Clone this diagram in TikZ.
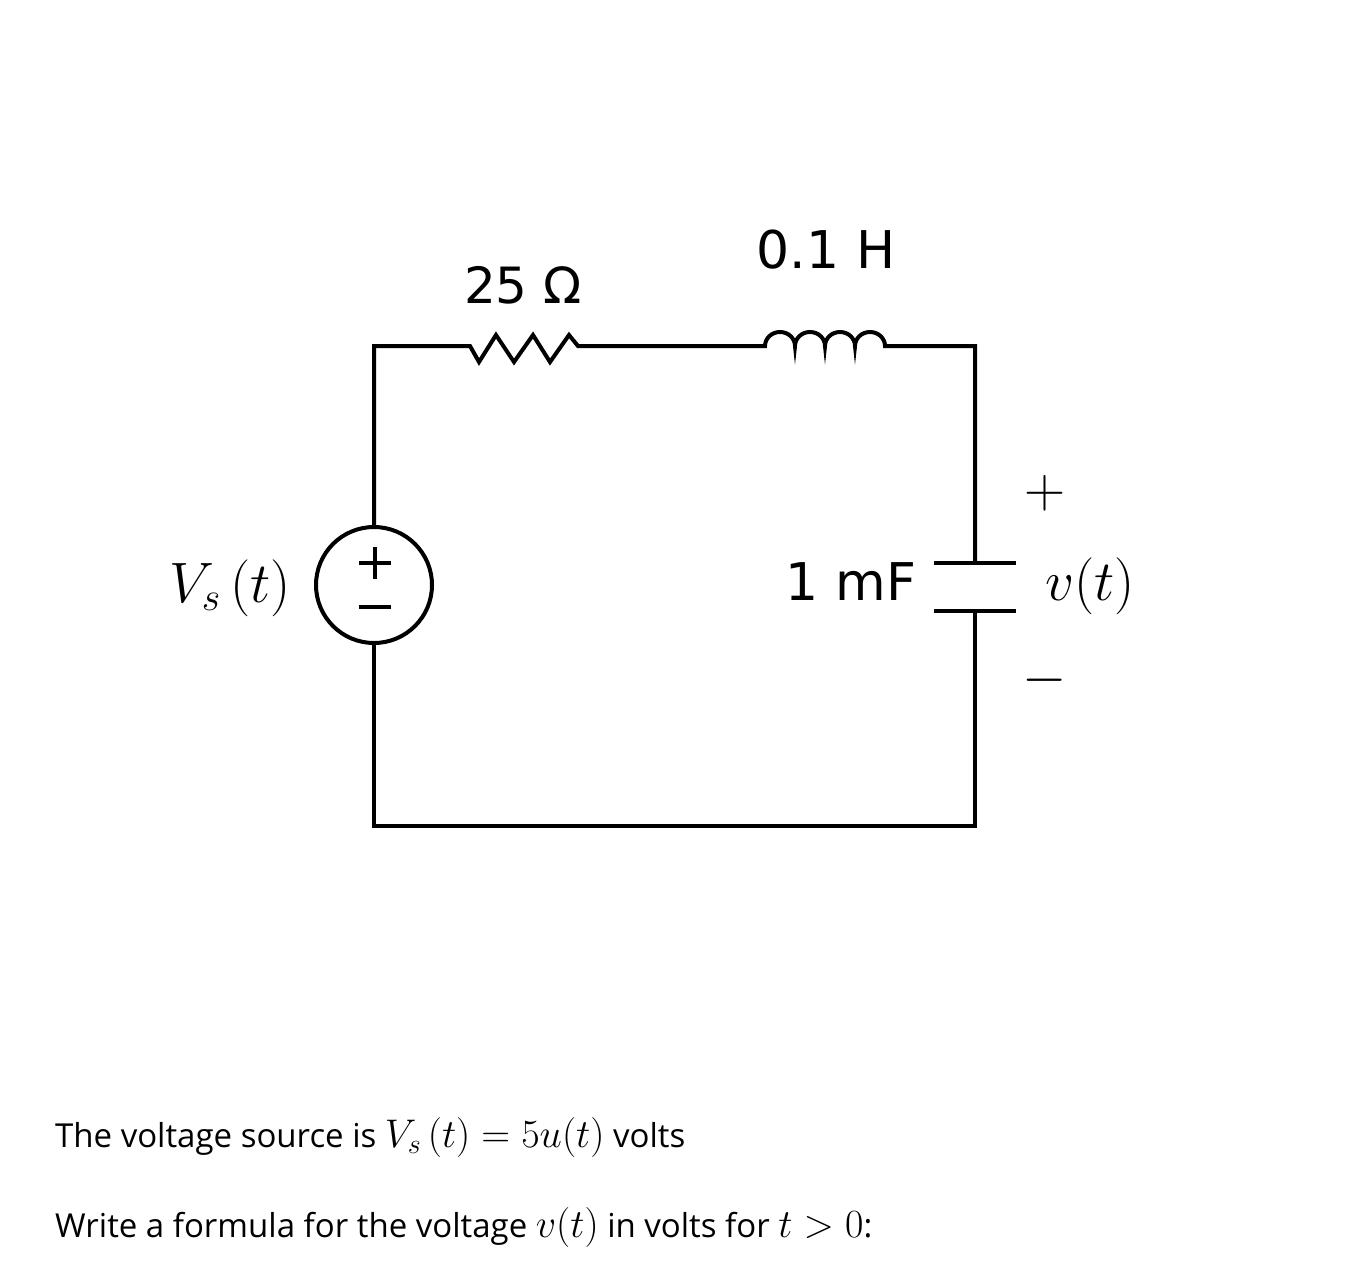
\documentclass[tikz,border=0pt]{standalone}
\usepackage{fix-cm}
\usepackage{fontspec}
\setmainfont{Open Sans}
\newfontfamily\dv{DejaVu Sans}
\newcommand{\bm}[1]{{\fontsize{40}{40}\selectfont$#1$}}
\begin{document}
\begin{tikzpicture}[x=1pt,y=-1pt,wire/.style={line width=4pt,line join=miter},
  lab/.style={font=\dv\fontsize{52}{60}\selectfont,inner sep=0pt},
  mlab/.style={inner sep=0pt,font=\fontsize{57}{60}\selectfont}]
\useasboundingbox (0,0) rectangle (1354,1282);
\coordinate (tl) at (374,346);
\coordinate (tr) at (975,346);
\coordinate (bl) at (374,826);
\coordinate (br) at (975,826);
\node[circle,draw,line width=4pt,minimum size=116pt,inner sep=0pt] (src) at (374,585) {};
\draw[line width=4pt] (359,563) -- (391,563) (375,547) -- (375,579);
\draw[line width=4pt] (359,607) -- (391,607);
\coordinate (c1) at (975,563);
\coordinate (c2) at (975,611);
\draw[wire] (src.north) -- (tl) -- (470,346) -- (479,362) -- (496,335) -- (514,362) -- (533,335) -- (550,362) -- (569,335) -- (578,346) -- (765,346)
  arc[start angle=180,end angle=360,x radius=15,y radius=14]
  arc[start angle=180,end angle=360,x radius=15,y radius=14]
  arc[start angle=180,end angle=360,x radius=15,y radius=14]
  arc[start angle=180,end angle=360,x radius=15,y radius=14]
  -- (tr) -- (c1);
\draw[wire] (934,563) -- (1016,563) (934,611) -- (1016,611);
\draw[wire] (c2) -- (br) -- (bl) -- (src.south);
\node[lab,font=\dv\fontsize{50}{60}\selectfont] (r) at (523,285) {25 Ω};
\node[lab] (l) at (826,250) {0.1 H};
\node[lab] (c) at (851,582) {1 mF};
\node[mlab] (vs) at (230,588) {$V_s\,(t)$};
\node[mlab] (vp) at (1045,493) {$+$};
\node[mlab] (vt) at (1090,586) {$v(t)$};
\node[mlab] (vm) at (1045,680) {$-$};
\node[anchor=base west,inner sep=0pt,font=\fontsize{33}{40}\selectfont] (t1) at (55,1147) {The voltage source is \bm{V_s\,(t)=5u(t)} volts};
\node[anchor=base west,inner sep=0pt,font=\fontsize{33}{40}\selectfont] (t2) at (55,1237) {Write a formula for the voltage \bm{v(t)} in volts for \bm{t>0}:};
\end{tikzpicture}
\end{document}
